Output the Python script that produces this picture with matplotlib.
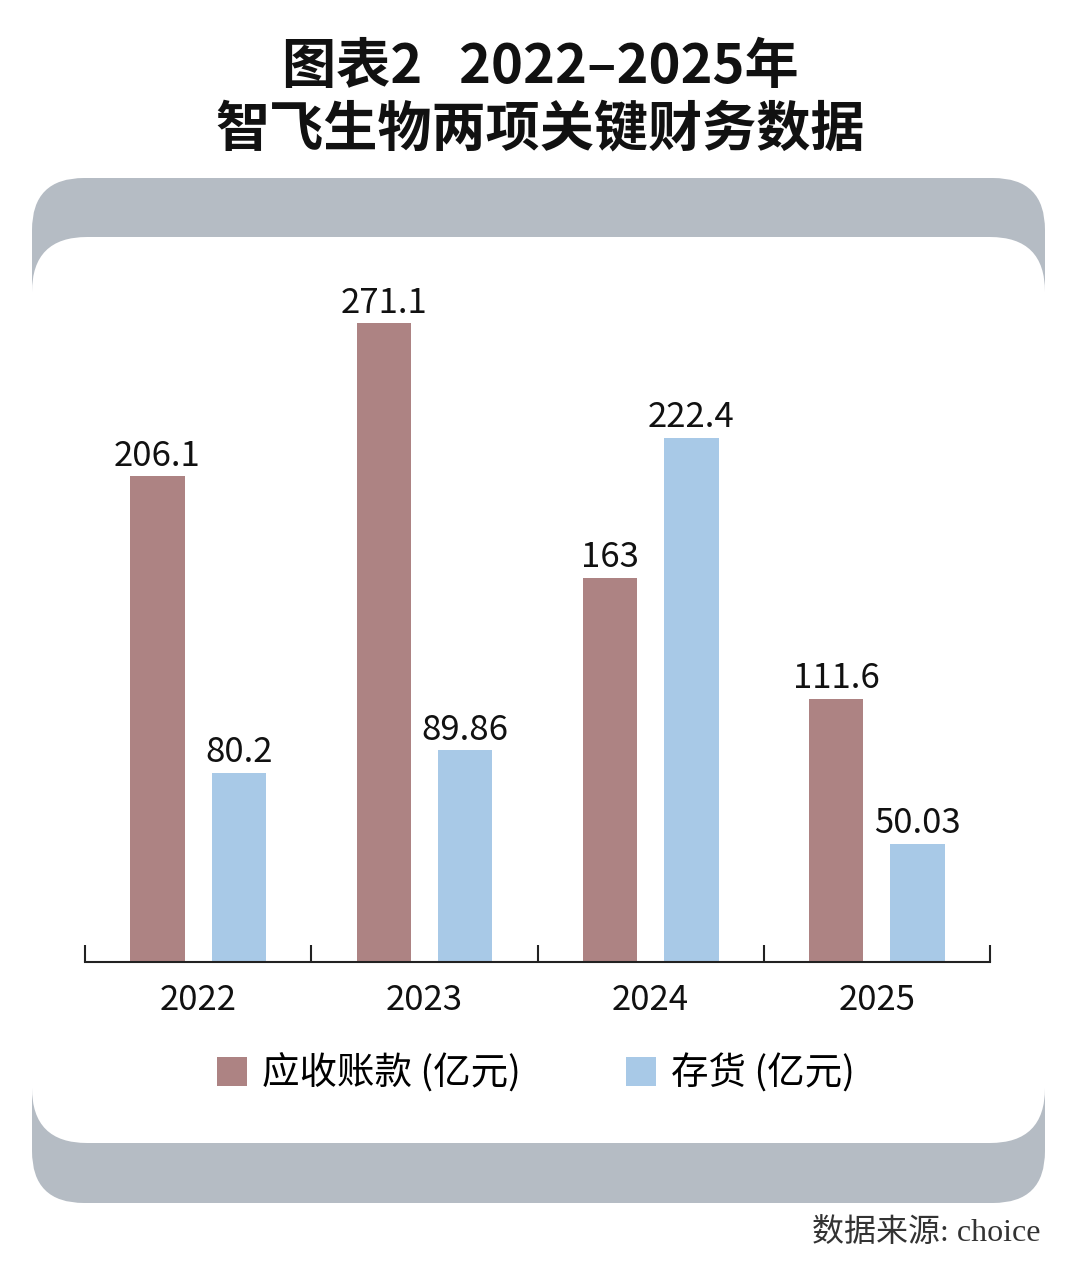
import matplotlib
matplotlib.use('Agg')
import matplotlib.pyplot as plt
from matplotlib.patches import FancyBboxPatch, Patch
import numpy as np

plt.rcParams['font.family'] = ['Noto Sans CJK SC', 'DejaVu Sans']

# Data
years = ['2022', '2023', '2024', '2025']
receivables = [206.1, 271.1, 163, 111.6]
receivables_txt = ['206.1', '271.1', '163', '111.6']
inventory = [80.2, 89.86, 222.4, 50.03]
inventory_txt = ['80.2', '89.86', '222.4', '50.03']
series_names = ['应收账款 (亿元)', '存货 (亿元)']

RED = '#ad8383'
BLUE = '#a8c9e7'
GRAY = '#b5bcc4'

W, H = 1080, 1261
fig = plt.figure(figsize=(W / 100, H / 100), dpi=100)

# background layer in pixel coordinates
bg = fig.add_axes([0, 0, 1, 1])
bg.set_xlim(0, W)
bg.set_ylim(H, 0)
bg.axis('off')
bg.add_patch(FancyBboxPatch((32, 178), 1013, 1025,
                            boxstyle='round,pad=0,rounding_size=52',
                            fc=GRAY, ec='none'))
bg.add_patch(FancyBboxPatch((32, 237), 1013, 906,
                            boxstyle='round,pad=0,rounding_size=55',
                            fc='white', ec='none'))

fig.text(0.5, 1 - 68 / H, '图表2   2022–2025年', ha='center', va='center',
         fontsize=39, fontweight='bold', color='#111111')
fig.text(0.5, 1 - 130 / H, '智飞生物两项关键财务数据', ha='center', va='center',
         fontsize=39, fontweight='bold', color='#111111')
fig.text(1040 / W, 1 - 1233 / H, '数据来源: choice', ha='right', va='center',
         fontsize=23, color='#333333',
         family=['Liberation Serif', 'Noto Sans CJK SC'])

# bar chart
ax = fig.add_axes([85 / W, (H - 962) / H, 905 / W, 662 / H])
ax.patch.set_alpha(0)
x = np.arange(len(years))
bw = 0.24
off = 0.18
b1 = ax.bar(x - off, receivables, bw, color=RED)
b2 = ax.bar(x + off, inventory, bw, color=BLUE)

for bars, txts in ((b1, receivables_txt), (b2, inventory_txt)):
    for b, t in zip(bars, txts):
        ax.annotate(t, (b.get_x() + b.get_width() / 2, b.get_height()),
                    xytext=(0, 2), textcoords='offset points',
                    ha='center', va='bottom', fontsize=25, color='#111111')

ax.set_xlim(-0.5, len(years) - 0.5)
ax.set_ylim(0, 281)
ax.set_yticks([])
for s in ['left', 'right', 'top']:
    ax.spines[s].set_visible(False)
ax.spines['bottom'].set_linewidth(1.5)
ax.spines['bottom'].set_color('#222222')

ax.set_xticks(x)
ax.set_xticklabels(years, fontsize=25, color='#111111')
ax.tick_params(axis='x', which='major', length=0, pad=15)
ax.set_xticks(np.arange(-0.5, len(years)), minor=True)
ax.tick_params(axis='x', which='minor', direction='in', length=12,
               width=1.5, color='#222222')

handles = [Patch(fc=RED, ec='none'), Patch(fc=BLUE, ec='none')]
fig.legend(handles, series_names, loc='center',
           bbox_to_anchor=(0.5 - 4 / W, 1 - 1074 / H), ncol=2, frameon=False,
           fontsize=27, handlelength=0.8, handleheight=0.8,
           handletextpad=0.4, columnspacing=2.8)

fig.savefig('out.png', dpi=100)
